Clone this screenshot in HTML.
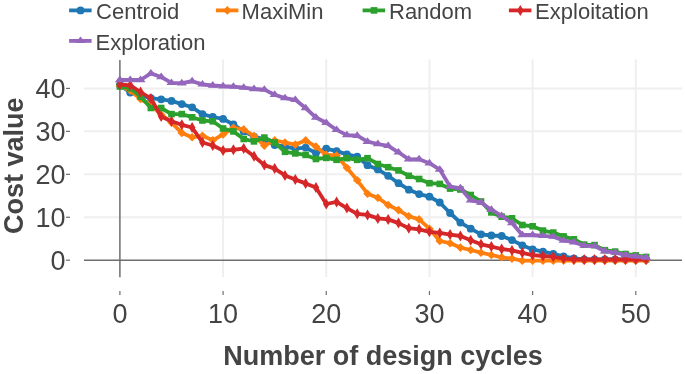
<!DOCTYPE html>
<html><head><meta charset="utf-8"><title>Cost value vs design cycles</title>
<style>html,body{margin:0;padding:0;background:#fff;}body{width:685px;height:374px;overflow:hidden;}svg{display:block;}</style>
</head><body>
<svg width="685" height="374" viewBox="0 0 685 374">
<rect width="685" height="374" fill="#ffffff"/>
<g stroke="#efefef" stroke-width="2">
<line x1="84" y1="217.25" x2="682" y2="217.25"/>
<line x1="84" y1="174.3" x2="682" y2="174.3"/>
<line x1="84" y1="131.35" x2="682" y2="131.35"/>
<line x1="84" y1="88.4" x2="682" y2="88.4"/>
<line x1="223.08" y1="59.5" x2="223.08" y2="277"/>
<line x1="326.26" y1="59.5" x2="326.26" y2="277"/>
<line x1="429.44" y1="59.5" x2="429.44" y2="277"/>
<line x1="532.62" y1="59.5" x2="532.62" y2="277"/>
<line x1="635.8" y1="59.5" x2="635.8" y2="277"/>
</g>
<line x1="84" y1="260.2" x2="682" y2="260.2" stroke="#6e6e6e" stroke-width="1.5"/>
<line x1="119.9" y1="60" x2="119.9" y2="277.2" stroke="#6e6e6e" stroke-width="1.5"/>
<g stroke="#6e6e6e" stroke-width="1.2">
<line x1="66" y1="260.2" x2="70" y2="260.2"/>
<line x1="66" y1="217.25" x2="70" y2="217.25"/>
<line x1="66" y1="174.3" x2="70" y2="174.3"/>
<line x1="66" y1="131.35" x2="70" y2="131.35"/>
<line x1="66" y1="88.4" x2="70" y2="88.4"/>
<line x1="119.9" y1="291" x2="119.9" y2="295"/>
<line x1="223.08" y1="291" x2="223.08" y2="295"/>
<line x1="326.26" y1="291" x2="326.26" y2="295"/>
<line x1="429.44" y1="291" x2="429.44" y2="295"/>
<line x1="532.62" y1="291" x2="532.62" y2="295"/>
<line x1="635.8" y1="291" x2="635.8" y2="295"/>
</g>
<g font-family="Liberation Sans, sans-serif" font-size="27" fill="#444444">
<text x="65.5" y="269.8" text-anchor="end">0</text>
<text x="65.5" y="226.85" text-anchor="end">10</text>
<text x="65.5" y="183.9" text-anchor="end">20</text>
<text x="65.5" y="140.95" text-anchor="end">30</text>
<text x="65.5" y="98" text-anchor="end">40</text>
<text x="119.9" y="322.8" text-anchor="middle">0</text>
<text x="223.08" y="322.8" text-anchor="middle">10</text>
<text x="326.26" y="322.8" text-anchor="middle">20</text>
<text x="429.44" y="322.8" text-anchor="middle">30</text>
<text x="532.62" y="322.8" text-anchor="middle">40</text>
<text x="635.8" y="322.8" text-anchor="middle">50</text>
</g>
<text x="383" y="365" text-anchor="middle" font-family="Liberation Sans, sans-serif" font-weight="bold" font-size="27" fill="#444444">Number of design cycles</text>
<text transform="translate(22.6,165.7) rotate(-90)" text-anchor="middle" font-family="Liberation Sans, sans-serif" font-weight="bold" font-size="27" fill="#444444">Cost value</text>
<polyline points="119.9,85 130.22,92.5 140.54,95.5 150.85,98.2 161.17,99.3 171.49,100.9 181.81,104.1 192.13,107.3 202.44,114.1 212.76,117 223.08,118.9 233.4,124.5 243.72,131.4 254.03,136.6 264.35,139.3 274.67,145 284.99,146.6 295.31,148.6 305.62,147.6 315.94,153 326.26,148.7 336.58,151.1 346.9,154.4 357.21,156.6 367.53,165.2 377.85,169.4 388.17,175.8 398.49,183.2 408.8,189.7 419.12,194.1 429.44,196.7 439.76,202.5 450.08,213 460.39,222.6 470.71,228.7 481.03,234.3 491.35,235.5 501.67,236 511.98,240.1 522.3,245.3 532.62,249.4 542.94,251.6 553.26,253.9 563.57,256.3 573.89,258.4 584.21,259.5 594.53,259.5 604.85,259.5 615.16,259.5 625.48,259.5 635.8,259.5 646.12,259.5" fill="none" stroke="#1f77b4" stroke-width="3.8" stroke-linejoin="round" stroke-linecap="butt"/>
<g fill="#1f77b4">
<circle cx="119.9" cy="85" r="3.9"/>
<circle cx="130.22" cy="92.5" r="3.9"/>
<circle cx="140.54" cy="95.5" r="3.9"/>
<circle cx="150.85" cy="98.2" r="3.9"/>
<circle cx="161.17" cy="99.3" r="3.9"/>
<circle cx="171.49" cy="100.9" r="3.9"/>
<circle cx="181.81" cy="104.1" r="3.9"/>
<circle cx="192.13" cy="107.3" r="3.9"/>
<circle cx="202.44" cy="114.1" r="3.9"/>
<circle cx="212.76" cy="117" r="3.9"/>
<circle cx="223.08" cy="118.9" r="3.9"/>
<circle cx="233.4" cy="124.5" r="3.9"/>
<circle cx="243.72" cy="131.4" r="3.9"/>
<circle cx="254.03" cy="136.6" r="3.9"/>
<circle cx="264.35" cy="139.3" r="3.9"/>
<circle cx="274.67" cy="145" r="3.9"/>
<circle cx="284.99" cy="146.6" r="3.9"/>
<circle cx="295.31" cy="148.6" r="3.9"/>
<circle cx="305.62" cy="147.6" r="3.9"/>
<circle cx="315.94" cy="153" r="3.9"/>
<circle cx="326.26" cy="148.7" r="3.9"/>
<circle cx="336.58" cy="151.1" r="3.9"/>
<circle cx="346.9" cy="154.4" r="3.9"/>
<circle cx="357.21" cy="156.6" r="3.9"/>
<circle cx="367.53" cy="165.2" r="3.9"/>
<circle cx="377.85" cy="169.4" r="3.9"/>
<circle cx="388.17" cy="175.8" r="3.9"/>
<circle cx="398.49" cy="183.2" r="3.9"/>
<circle cx="408.8" cy="189.7" r="3.9"/>
<circle cx="419.12" cy="194.1" r="3.9"/>
<circle cx="429.44" cy="196.7" r="3.9"/>
<circle cx="439.76" cy="202.5" r="3.9"/>
<circle cx="450.08" cy="213" r="3.9"/>
<circle cx="460.39" cy="222.6" r="3.9"/>
<circle cx="470.71" cy="228.7" r="3.9"/>
<circle cx="481.03" cy="234.3" r="3.9"/>
<circle cx="491.35" cy="235.5" r="3.9"/>
<circle cx="501.67" cy="236" r="3.9"/>
<circle cx="511.98" cy="240.1" r="3.9"/>
<circle cx="522.3" cy="245.3" r="3.9"/>
<circle cx="532.62" cy="249.4" r="3.9"/>
<circle cx="542.94" cy="251.6" r="3.9"/>
<circle cx="553.26" cy="253.9" r="3.9"/>
<circle cx="563.57" cy="256.3" r="3.9"/>
<circle cx="573.89" cy="258.4" r="3.9"/>
<circle cx="584.21" cy="259.5" r="3.9"/>
<circle cx="594.53" cy="259.5" r="3.9"/>
<circle cx="604.85" cy="259.5" r="3.9"/>
<circle cx="615.16" cy="259.5" r="3.9"/>
<circle cx="625.48" cy="259.5" r="3.9"/>
<circle cx="635.8" cy="259.5" r="3.9"/>
<circle cx="646.12" cy="259.5" r="3.9"/>
</g>
<polyline points="119.9,85.7 130.22,90.5 140.54,99 150.85,105 161.17,114.6 171.49,122.6 181.81,132.9 192.13,137.3 202.44,135.8 212.76,140.3 223.08,134.4 233.4,127.8 243.72,129.4 254.03,136 264.35,145.6 274.67,140.4 284.99,142.5 295.31,144.6 305.62,140.4 315.94,146.6 326.26,154.9 336.58,155.5 346.9,167.8 357.21,180.3 367.53,193.7 377.85,197.8 388.17,205 398.49,210.1 408.8,216.3 419.12,219.4 429.44,228.7 439.76,241 450.08,243.2 460.39,247.6 470.71,250 481.03,252.7 491.35,255 501.67,257.3 511.98,258.6 522.3,260.7 532.62,260.7 542.94,260.7 553.26,260.7 563.57,260.6 573.89,260.6 584.21,260.6 594.53,260.6 604.85,260.6 615.16,260.6 625.48,260.6 635.8,260.6 646.12,260.6" fill="none" stroke="#ff7f0e" stroke-width="3.8" stroke-linejoin="round" stroke-linecap="butt"/>
<g fill="#ff7f0e">
<path d="M119.9 81.4L124.2 85.7L119.9 90L115.6 85.7Z"/>
<path d="M130.22 86.2L134.52 90.5L130.22 94.8L125.92 90.5Z"/>
<path d="M140.54 94.7L144.84 99L140.54 103.3L136.24 99Z"/>
<path d="M150.85 100.7L155.15 105L150.85 109.3L146.55 105Z"/>
<path d="M161.17 110.3L165.47 114.6L161.17 118.9L156.87 114.6Z"/>
<path d="M171.49 118.3L175.79 122.6L171.49 126.9L167.19 122.6Z"/>
<path d="M181.81 128.6L186.11 132.9L181.81 137.2L177.51 132.9Z"/>
<path d="M192.13 133L196.43 137.3L192.13 141.6L187.83 137.3Z"/>
<path d="M202.44 131.5L206.74 135.8L202.44 140.1L198.14 135.8Z"/>
<path d="M212.76 136L217.06 140.3L212.76 144.6L208.46 140.3Z"/>
<path d="M223.08 130.1L227.38 134.4L223.08 138.7L218.78 134.4Z"/>
<path d="M233.4 123.5L237.7 127.8L233.4 132.1L229.1 127.8Z"/>
<path d="M243.72 125.1L248.02 129.4L243.72 133.7L239.42 129.4Z"/>
<path d="M254.03 131.7L258.33 136L254.03 140.3L249.73 136Z"/>
<path d="M264.35 141.3L268.65 145.6L264.35 149.9L260.05 145.6Z"/>
<path d="M274.67 136.1L278.97 140.4L274.67 144.7L270.37 140.4Z"/>
<path d="M284.99 138.2L289.29 142.5L284.99 146.8L280.69 142.5Z"/>
<path d="M295.31 140.3L299.61 144.6L295.31 148.9L291.01 144.6Z"/>
<path d="M305.62 136.1L309.92 140.4L305.62 144.7L301.32 140.4Z"/>
<path d="M315.94 142.3L320.24 146.6L315.94 150.9L311.64 146.6Z"/>
<path d="M326.26 150.6L330.56 154.9L326.26 159.2L321.96 154.9Z"/>
<path d="M336.58 151.2L340.88 155.5L336.58 159.8L332.28 155.5Z"/>
<path d="M346.9 163.5L351.2 167.8L346.9 172.1L342.6 167.8Z"/>
<path d="M357.21 176L361.51 180.3L357.21 184.6L352.91 180.3Z"/>
<path d="M367.53 189.4L371.83 193.7L367.53 198L363.23 193.7Z"/>
<path d="M377.85 193.5L382.15 197.8L377.85 202.1L373.55 197.8Z"/>
<path d="M388.17 200.7L392.47 205L388.17 209.3L383.87 205Z"/>
<path d="M398.49 205.8L402.79 210.1L398.49 214.4L394.19 210.1Z"/>
<path d="M408.8 212L413.1 216.3L408.8 220.6L404.5 216.3Z"/>
<path d="M419.12 215.1L423.42 219.4L419.12 223.7L414.82 219.4Z"/>
<path d="M429.44 224.4L433.74 228.7L429.44 233L425.14 228.7Z"/>
<path d="M439.76 236.7L444.06 241L439.76 245.3L435.46 241Z"/>
<path d="M450.08 238.9L454.38 243.2L450.08 247.5L445.78 243.2Z"/>
<path d="M460.39 243.3L464.69 247.6L460.39 251.9L456.09 247.6Z"/>
<path d="M470.71 245.7L475.01 250L470.71 254.3L466.41 250Z"/>
<path d="M481.03 248.4L485.33 252.7L481.03 257L476.73 252.7Z"/>
<path d="M491.35 250.7L495.65 255L491.35 259.3L487.05 255Z"/>
<path d="M501.67 253L505.97 257.3L501.67 261.6L497.37 257.3Z"/>
<path d="M511.98 254.3L516.28 258.6L511.98 262.9L507.68 258.6Z"/>
<path d="M522.3 256.4L526.6 260.7L522.3 265L518 260.7Z"/>
<path d="M532.62 256.4L536.92 260.7L532.62 265L528.32 260.7Z"/>
<path d="M542.94 256.4L547.24 260.7L542.94 265L538.64 260.7Z"/>
<path d="M553.26 256.4L557.56 260.7L553.26 265L548.96 260.7Z"/>
<path d="M563.57 256.3L567.87 260.6L563.57 264.9L559.27 260.6Z"/>
<path d="M573.89 256.3L578.19 260.6L573.89 264.9L569.59 260.6Z"/>
<path d="M584.21 256.3L588.51 260.6L584.21 264.9L579.91 260.6Z"/>
<path d="M594.53 256.3L598.83 260.6L594.53 264.9L590.23 260.6Z"/>
<path d="M604.85 256.3L609.15 260.6L604.85 264.9L600.55 260.6Z"/>
<path d="M615.16 256.3L619.46 260.6L615.16 264.9L610.86 260.6Z"/>
<path d="M625.48 256.3L629.78 260.6L625.48 264.9L621.18 260.6Z"/>
<path d="M635.8 256.3L640.1 260.6L635.8 264.9L631.5 260.6Z"/>
<path d="M646.12 256.3L650.42 260.6L646.12 264.9L641.82 260.6Z"/>
</g>
<polyline points="119.9,86.5 130.22,88.3 140.54,96.6 150.85,108 161.17,108 171.49,114.1 181.81,114.1 192.13,117.3 202.44,120.5 212.76,121.3 223.08,128.5 233.4,131.4 243.72,139 254.03,141.4 264.35,137.6 274.67,142.5 284.99,151.8 295.31,153.4 305.62,154.9 315.94,159 326.26,157.9 336.58,159.8 346.9,158.2 357.21,159.8 367.53,158.2 377.85,164 388.17,167.2 398.49,170.4 408.8,175.8 419.12,179 429.44,183.2 439.76,183.9 450.08,188.6 460.39,189.5 470.71,195 481.03,201.5 491.35,212.4 501.67,216.7 511.98,218.3 522.3,225 532.62,226.3 542.94,230.6 553.26,232.6 563.57,236.4 573.89,239.3 584.21,244.6 594.53,245.1 604.85,250.2 615.16,251.6 625.48,254 635.8,255.4 646.12,257" fill="none" stroke="#2ca02c" stroke-width="3.8" stroke-linejoin="round" stroke-linecap="butt"/>
<g fill="#2ca02c">
<rect x="116.6" y="83.2" width="6.6" height="6.6"/>
<rect x="126.92" y="85" width="6.6" height="6.6"/>
<rect x="137.24" y="93.3" width="6.6" height="6.6"/>
<rect x="147.55" y="104.7" width="6.6" height="6.6"/>
<rect x="157.87" y="104.7" width="6.6" height="6.6"/>
<rect x="168.19" y="110.8" width="6.6" height="6.6"/>
<rect x="178.51" y="110.8" width="6.6" height="6.6"/>
<rect x="188.83" y="114" width="6.6" height="6.6"/>
<rect x="199.14" y="117.2" width="6.6" height="6.6"/>
<rect x="209.46" y="118" width="6.6" height="6.6"/>
<rect x="219.78" y="125.2" width="6.6" height="6.6"/>
<rect x="230.1" y="128.1" width="6.6" height="6.6"/>
<rect x="240.42" y="135.7" width="6.6" height="6.6"/>
<rect x="250.73" y="138.1" width="6.6" height="6.6"/>
<rect x="261.05" y="134.3" width="6.6" height="6.6"/>
<rect x="271.37" y="139.2" width="6.6" height="6.6"/>
<rect x="281.69" y="148.5" width="6.6" height="6.6"/>
<rect x="292.01" y="150.1" width="6.6" height="6.6"/>
<rect x="302.32" y="151.6" width="6.6" height="6.6"/>
<rect x="312.64" y="155.7" width="6.6" height="6.6"/>
<rect x="322.96" y="154.6" width="6.6" height="6.6"/>
<rect x="333.28" y="156.5" width="6.6" height="6.6"/>
<rect x="343.6" y="154.9" width="6.6" height="6.6"/>
<rect x="353.91" y="156.5" width="6.6" height="6.6"/>
<rect x="364.23" y="154.9" width="6.6" height="6.6"/>
<rect x="374.55" y="160.7" width="6.6" height="6.6"/>
<rect x="384.87" y="163.9" width="6.6" height="6.6"/>
<rect x="395.19" y="167.1" width="6.6" height="6.6"/>
<rect x="405.5" y="172.5" width="6.6" height="6.6"/>
<rect x="415.82" y="175.7" width="6.6" height="6.6"/>
<rect x="426.14" y="179.9" width="6.6" height="6.6"/>
<rect x="436.46" y="180.6" width="6.6" height="6.6"/>
<rect x="446.78" y="185.3" width="6.6" height="6.6"/>
<rect x="457.09" y="186.2" width="6.6" height="6.6"/>
<rect x="467.41" y="191.7" width="6.6" height="6.6"/>
<rect x="477.73" y="198.2" width="6.6" height="6.6"/>
<rect x="488.05" y="209.1" width="6.6" height="6.6"/>
<rect x="498.37" y="213.4" width="6.6" height="6.6"/>
<rect x="508.68" y="215" width="6.6" height="6.6"/>
<rect x="519" y="221.7" width="6.6" height="6.6"/>
<rect x="529.32" y="223" width="6.6" height="6.6"/>
<rect x="539.64" y="227.3" width="6.6" height="6.6"/>
<rect x="549.96" y="229.3" width="6.6" height="6.6"/>
<rect x="560.27" y="233.1" width="6.6" height="6.6"/>
<rect x="570.59" y="236" width="6.6" height="6.6"/>
<rect x="580.91" y="241.3" width="6.6" height="6.6"/>
<rect x="591.23" y="241.8" width="6.6" height="6.6"/>
<rect x="601.55" y="246.9" width="6.6" height="6.6"/>
<rect x="611.86" y="248.3" width="6.6" height="6.6"/>
<rect x="622.18" y="250.7" width="6.6" height="6.6"/>
<rect x="632.5" y="252.1" width="6.6" height="6.6"/>
<rect x="642.82" y="253.7" width="6.6" height="6.6"/>
</g>
<polyline points="119.9,84.5 130.22,85.3 140.54,92 150.85,98.5 161.17,116.5 171.49,121.3 181.81,124.8 192.13,127.5 202.44,142.5 212.76,145.5 223.08,150.5 233.4,149.8 243.72,148.5 254.03,156.3 264.35,165.1 274.67,168.6 284.99,175.4 295.31,179.6 305.62,183.4 315.94,187.5 326.26,204 336.58,201.9 346.9,208.1 357.21,213.8 367.53,214.9 377.85,218.4 388.17,219.4 398.49,223.1 408.8,228.2 419.12,229.3 429.44,231.8 439.76,232.9 450.08,234.6 460.39,236 470.71,240.2 481.03,244.3 491.35,246.6 501.67,249 511.98,250.4 522.3,252.8 532.62,255.1 542.94,256 553.26,256.8 563.57,258.6 573.89,259.4 584.21,259.5 594.53,259.5 604.85,259.5 615.16,259.5 625.48,259.5 635.8,259.5 646.12,259.5" fill="none" stroke="#d62728" stroke-width="3.8" stroke-linejoin="round" stroke-linecap="butt"/>
<g fill="#d62728">
<path d="M119.9 79L123.2 84.5L119.9 90L116.6 84.5Z"/>
<path d="M130.22 79.8L133.52 85.3L130.22 90.8L126.92 85.3Z"/>
<path d="M140.54 86.5L143.84 92L140.54 97.5L137.24 92Z"/>
<path d="M150.85 93L154.15 98.5L150.85 104L147.55 98.5Z"/>
<path d="M161.17 111L164.47 116.5L161.17 122L157.87 116.5Z"/>
<path d="M171.49 115.8L174.79 121.3L171.49 126.8L168.19 121.3Z"/>
<path d="M181.81 119.3L185.11 124.8L181.81 130.3L178.51 124.8Z"/>
<path d="M192.13 122L195.43 127.5L192.13 133L188.83 127.5Z"/>
<path d="M202.44 137L205.74 142.5L202.44 148L199.14 142.5Z"/>
<path d="M212.76 140L216.06 145.5L212.76 151L209.46 145.5Z"/>
<path d="M223.08 145L226.38 150.5L223.08 156L219.78 150.5Z"/>
<path d="M233.4 144.3L236.7 149.8L233.4 155.3L230.1 149.8Z"/>
<path d="M243.72 143L247.02 148.5L243.72 154L240.42 148.5Z"/>
<path d="M254.03 150.8L257.33 156.3L254.03 161.8L250.73 156.3Z"/>
<path d="M264.35 159.6L267.65 165.1L264.35 170.6L261.05 165.1Z"/>
<path d="M274.67 163.1L277.97 168.6L274.67 174.1L271.37 168.6Z"/>
<path d="M284.99 169.9L288.29 175.4L284.99 180.9L281.69 175.4Z"/>
<path d="M295.31 174.1L298.61 179.6L295.31 185.1L292.01 179.6Z"/>
<path d="M305.62 177.9L308.92 183.4L305.62 188.9L302.32 183.4Z"/>
<path d="M315.94 182L319.24 187.5L315.94 193L312.64 187.5Z"/>
<path d="M326.26 198.5L329.56 204L326.26 209.5L322.96 204Z"/>
<path d="M336.58 196.4L339.88 201.9L336.58 207.4L333.28 201.9Z"/>
<path d="M346.9 202.6L350.2 208.1L346.9 213.6L343.6 208.1Z"/>
<path d="M357.21 208.3L360.51 213.8L357.21 219.3L353.91 213.8Z"/>
<path d="M367.53 209.4L370.83 214.9L367.53 220.4L364.23 214.9Z"/>
<path d="M377.85 212.9L381.15 218.4L377.85 223.9L374.55 218.4Z"/>
<path d="M388.17 213.9L391.47 219.4L388.17 224.9L384.87 219.4Z"/>
<path d="M398.49 217.6L401.79 223.1L398.49 228.6L395.19 223.1Z"/>
<path d="M408.8 222.7L412.1 228.2L408.8 233.7L405.5 228.2Z"/>
<path d="M419.12 223.8L422.42 229.3L419.12 234.8L415.82 229.3Z"/>
<path d="M429.44 226.3L432.74 231.8L429.44 237.3L426.14 231.8Z"/>
<path d="M439.76 227.4L443.06 232.9L439.76 238.4L436.46 232.9Z"/>
<path d="M450.08 229.1L453.38 234.6L450.08 240.1L446.78 234.6Z"/>
<path d="M460.39 230.5L463.69 236L460.39 241.5L457.09 236Z"/>
<path d="M470.71 234.7L474.01 240.2L470.71 245.7L467.41 240.2Z"/>
<path d="M481.03 238.8L484.33 244.3L481.03 249.8L477.73 244.3Z"/>
<path d="M491.35 241.1L494.65 246.6L491.35 252.1L488.05 246.6Z"/>
<path d="M501.67 243.5L504.97 249L501.67 254.5L498.37 249Z"/>
<path d="M511.98 244.9L515.28 250.4L511.98 255.9L508.68 250.4Z"/>
<path d="M522.3 247.3L525.6 252.8L522.3 258.3L519 252.8Z"/>
<path d="M532.62 249.6L535.92 255.1L532.62 260.6L529.32 255.1Z"/>
<path d="M542.94 250.5L546.24 256L542.94 261.5L539.64 256Z"/>
<path d="M553.26 251.3L556.56 256.8L553.26 262.3L549.96 256.8Z"/>
<path d="M563.57 253.1L566.87 258.6L563.57 264.1L560.27 258.6Z"/>
<path d="M573.89 253.9L577.19 259.4L573.89 264.9L570.59 259.4Z"/>
<path d="M584.21 254L587.51 259.5L584.21 265L580.91 259.5Z"/>
<path d="M594.53 254L597.83 259.5L594.53 265L591.23 259.5Z"/>
<path d="M604.85 254L608.15 259.5L604.85 265L601.55 259.5Z"/>
<path d="M615.16 254L618.46 259.5L615.16 265L611.86 259.5Z"/>
<path d="M625.48 254L628.78 259.5L625.48 265L622.18 259.5Z"/>
<path d="M635.8 254L639.1 259.5L635.8 265L632.5 259.5Z"/>
<path d="M646.12 254L649.42 259.5L646.12 265L642.82 259.5Z"/>
</g>
<polyline points="119.9,80 130.22,80 140.54,80 150.85,73.4 161.17,77 171.49,82.8 181.81,83.2 192.13,81.2 202.44,84.4 212.76,85.5 223.08,86.2 233.4,86.6 243.72,87.6 254.03,89 264.35,89.6 274.67,94.7 284.99,98.1 295.31,99.8 305.62,108.1 315.94,117.5 326.26,122.8 336.58,129.9 346.9,135.1 357.21,135.7 367.53,141.7 377.85,144 388.17,145.9 398.49,152.3 408.8,159.4 419.12,159.2 429.44,163.2 439.76,169.6 450.08,186.6 460.39,188.1 470.71,200.4 481.03,202.5 491.35,209.7 501.67,215.9 511.98,223.1 522.3,235 532.62,235 542.94,235.8 553.26,236.6 563.57,240.5 573.89,242.2 584.21,245.6 594.53,246.1 604.85,251.2 615.16,252.6 625.48,255 635.8,256.4 646.12,257.6" fill="none" stroke="#9467bd" stroke-width="3.8" stroke-linejoin="round" stroke-linecap="butt"/>
<g fill="#9467bd">
<path d="M119.9 75.6L124.98 82.2L114.82 82.2Z"/>
<path d="M130.22 75.6L135.3 82.2L125.14 82.2Z"/>
<path d="M140.54 75.6L145.62 82.2L135.45 82.2Z"/>
<path d="M150.85 69L155.94 75.6L145.77 75.6Z"/>
<path d="M161.17 72.6L166.25 79.2L156.09 79.2Z"/>
<path d="M171.49 78.4L176.57 85L166.41 85Z"/>
<path d="M181.81 78.8L186.89 85.4L176.73 85.4Z"/>
<path d="M192.13 76.8L197.21 83.4L187.04 83.4Z"/>
<path d="M202.44 80L207.53 86.6L197.36 86.6Z"/>
<path d="M212.76 81.1L217.84 87.7L207.68 87.7Z"/>
<path d="M223.08 81.8L228.16 88.4L218 88.4Z"/>
<path d="M233.4 82.2L238.48 88.8L228.32 88.8Z"/>
<path d="M243.72 83.2L248.8 89.8L238.63 89.8Z"/>
<path d="M254.03 84.6L259.12 91.2L248.95 91.2Z"/>
<path d="M264.35 85.2L269.43 91.8L259.27 91.8Z"/>
<path d="M274.67 90.3L279.75 96.9L269.59 96.9Z"/>
<path d="M284.99 93.7L290.07 100.3L279.91 100.3Z"/>
<path d="M295.31 95.4L300.39 102L290.22 102Z"/>
<path d="M305.62 103.7L310.71 110.3L300.54 110.3Z"/>
<path d="M315.94 113.1L321.02 119.7L310.86 119.7Z"/>
<path d="M326.26 118.4L331.34 125L321.18 125Z"/>
<path d="M336.58 125.5L341.66 132.1L331.5 132.1Z"/>
<path d="M346.9 130.7L351.98 137.3L341.81 137.3Z"/>
<path d="M357.21 131.3L362.3 137.9L352.13 137.9Z"/>
<path d="M367.53 137.3L372.61 143.9L362.45 143.9Z"/>
<path d="M377.85 139.6L382.93 146.2L372.77 146.2Z"/>
<path d="M388.17 141.5L393.25 148.1L383.09 148.1Z"/>
<path d="M398.49 147.9L403.57 154.5L393.4 154.5Z"/>
<path d="M408.8 155L413.89 161.6L403.72 161.6Z"/>
<path d="M419.12 154.8L424.2 161.4L414.04 161.4Z"/>
<path d="M429.44 158.8L434.52 165.4L424.36 165.4Z"/>
<path d="M439.76 165.2L444.84 171.8L434.68 171.8Z"/>
<path d="M450.08 182.2L455.16 188.8L444.99 188.8Z"/>
<path d="M460.39 183.7L465.48 190.3L455.31 190.3Z"/>
<path d="M470.71 196L475.79 202.6L465.63 202.6Z"/>
<path d="M481.03 198.1L486.11 204.7L475.95 204.7Z"/>
<path d="M491.35 205.3L496.43 211.9L486.27 211.9Z"/>
<path d="M501.67 211.5L506.75 218.1L496.58 218.1Z"/>
<path d="M511.98 218.7L517.07 225.3L506.9 225.3Z"/>
<path d="M522.3 230.6L527.38 237.2L517.22 237.2Z"/>
<path d="M532.62 230.6L537.7 237.2L527.54 237.2Z"/>
<path d="M542.94 231.4L548.02 238L537.86 238Z"/>
<path d="M553.26 232.2L558.34 238.8L548.17 238.8Z"/>
<path d="M563.57 236.1L568.66 242.7L558.49 242.7Z"/>
<path d="M573.89 237.8L578.97 244.4L568.81 244.4Z"/>
<path d="M584.21 241.2L589.29 247.8L579.13 247.8Z"/>
<path d="M594.53 241.7L599.61 248.3L589.45 248.3Z"/>
<path d="M604.85 246.8L609.93 253.4L599.76 253.4Z"/>
<path d="M615.16 248.2L620.25 254.8L610.08 254.8Z"/>
<path d="M625.48 250.6L630.56 257.2L620.4 257.2Z"/>
<path d="M635.8 252L640.88 258.6L630.72 258.6Z"/>
<path d="M646.12 253.2L651.2 259.8L641.04 259.8Z"/>
</g>
<g font-family="Liberation Sans, sans-serif" font-size="22" fill="#444444">
<line x1="69.1" y1="10.4" x2="91.6" y2="10.4" stroke="#1f77b4" stroke-width="3.8"/>
<g fill="#1f77b4">
<circle cx="80.5" cy="10.4" r="3.9"/>
</g>
<text x="96.1" y="19.4">Centroid</text>
<line x1="215.9" y1="10.4" x2="238.4" y2="10.4" stroke="#ff7f0e" stroke-width="3.8"/>
<g fill="#ff7f0e">
<path d="M227.3 6.1L231.6 10.4L227.3 14.7L223 10.4Z"/>
</g>
<text x="241.6" y="19.4">MaxiMin</text>
<line x1="362.6" y1="10.4" x2="385.1" y2="10.4" stroke="#2ca02c" stroke-width="3.8"/>
<g fill="#2ca02c">
<rect x="370.7" y="7.1" width="6.6" height="6.6"/>
</g>
<text x="389" y="19.4">Random</text>
<line x1="508.9" y1="10.4" x2="531.4" y2="10.4" stroke="#d62728" stroke-width="3.8"/>
<g fill="#d62728">
<path d="M520.3 4.9L523.6 10.4L520.3 15.9L517 10.4Z"/>
</g>
<text x="535.1" y="19.4">Exploitation</text>
<line x1="69.1" y1="40.9" x2="91.6" y2="40.9" stroke="#9467bd" stroke-width="3.8"/>
<g fill="#9467bd">
<path d="M80.5 36.5L85.58 43.1L75.42 43.1Z"/>
</g>
<text x="95.5" y="49.9">Exploration</text>
</g>
</svg>
</body></html>
